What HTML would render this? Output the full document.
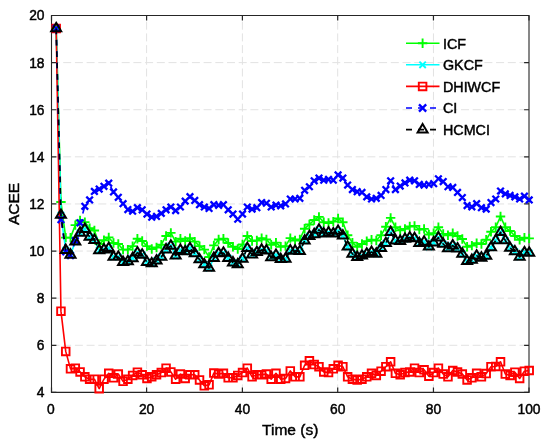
<!DOCTYPE html>
<html><head><meta charset="utf-8"><title>ACEE vs Time</title><style>
html,body{margin:0;padding:0;background:#fff;}body{width:550px;height:448px;overflow:hidden;}
svg{display:block;}text{font-family:"Liberation Sans", Arial, Helvetica, sans-serif;fill:#000;stroke:#000;stroke-width:0.45px;}
</style></head><body>
<svg width="550" height="448" viewBox="0 0 550 448">
<rect x="0" y="0" width="550" height="448" fill="#fff"/>
<path d="M146.60 392.4V15.5M242.40 392.4V15.5M337.70 392.4V15.5M433.45 392.4V15.5M51.5 345.29H529.0M51.5 298.17H529.0M51.5 251.06H529.0M51.5 203.95H529.0M51.5 156.84H529.0M51.5 109.73H529.0M51.5 62.61H529.0" stroke="#e2e2e2" stroke-width="1" stroke-dasharray="8 3.7" fill="none"/>
<path d="M51.5 15.5H529.0V392.4H51.5z" fill="none" stroke="#262626" stroke-width="1.1"/>
<path d="M51.50 392.4v-4.9M51.50 15.5v4.9M146.60 392.4v-4.9M146.60 15.5v4.9M242.40 392.4v-4.9M242.40 15.5v4.9M337.70 392.4v-4.9M337.70 15.5v4.9M433.45 392.4v-4.9M433.45 15.5v4.9M529.00 392.4v-4.9M529.00 15.5v4.9M51.5 392.40h4.9M529.0 392.40h-4.9M51.5 345.29h4.9M529.0 345.29h-4.9M51.5 298.17h4.9M529.0 298.17h-4.9M51.5 251.06h4.9M529.0 251.06h-4.9M51.5 203.95h4.9M529.0 203.95h-4.9M51.5 156.84h4.9M529.0 156.84h-4.9M51.5 109.73h4.9M529.0 109.73h-4.9M51.5 62.61h4.9M529.0 62.61h-4.9M51.5 15.50h4.9M529.0 15.50h-4.9" stroke="#262626" stroke-width="1.2" fill="none"/>
<g>
<polyline points="56.18,28.46 60.96,202.07 65.73,237.64 70.51,237.64 75.29,225.15 80.07,220.44 84.85,222.09 89.62,228.21 94.40,230.57 99.18,244.00 103.96,240.23 108.74,237.40 113.51,243.05 118.29,244.00 123.07,249.65 127.85,249.65 132.63,246.12 137.40,238.81 142.18,240.93 146.96,246.12 151.74,248.94 156.52,247.53 161.29,244.70 166.07,235.99 170.85,232.92 175.63,241.64 180.41,238.81 185.18,240.93 189.96,238.11 194.74,241.64 199.52,246.12 204.30,249.65 209.07,256.95 213.85,245.41 218.63,239.52 223.41,238.81 228.19,243.05 232.96,246.82 237.74,248.94 242.52,244.47 247.30,235.99 252.08,240.93 256.85,240.46 261.63,238.11 266.41,239.52 271.19,244.70 275.97,242.58 280.74,246.82 285.52,246.12 290.30,238.11 295.08,240.46 299.86,239.52 304.63,228.68 309.41,224.44 314.19,219.97 318.97,216.91 323.75,222.32 328.52,223.03 333.30,221.62 338.08,218.55 342.86,222.32 347.64,235.28 352.41,242.58 357.19,246.82 361.97,244.00 366.75,241.17 371.53,239.76 376.30,240.46 381.08,235.28 385.86,226.80 390.64,217.85 395.42,227.27 400.19,230.33 404.97,228.92 409.75,226.56 414.53,225.86 419.31,229.63 424.08,228.92 428.86,234.57 433.64,233.16 438.42,227.27 443.20,233.87 447.97,235.28 452.75,233.16 457.53,235.99 462.31,239.05 467.09,246.82 471.86,245.64 476.64,243.29 481.42,244.00 486.20,239.76 490.98,231.75 495.75,227.27 500.53,216.43 505.31,227.27 510.09,231.04 514.87,235.99 519.64,239.76 524.42,237.64 529.20,238.34" fill="none" stroke="#00ff00" stroke-width="1.6" stroke-linejoin="round"/>
<path d="M51.48 28.46h9.4M56.18 23.76v9.4M56.26 202.07h9.4M60.96 197.37v9.4M61.03 237.64h9.4M65.73 232.94v9.4M65.81 237.64h9.4M70.51 232.94v9.4M70.59 225.15h9.4M75.29 220.45v9.4M75.37 220.44h9.4M80.07 215.74v9.4M80.15 222.09h9.4M84.85 217.39v9.4M84.92 228.21h9.4M89.62 223.51v9.4M89.70 230.57h9.4M94.40 225.87v9.4M94.48 244.00h9.4M99.18 239.30v9.4M99.26 240.23h9.4M103.96 235.53v9.4M104.04 237.40h9.4M108.74 232.70v9.4M108.81 243.05h9.4M113.51 238.35v9.4M113.59 244.00h9.4M118.29 239.30v9.4M118.37 249.65h9.4M123.07 244.95v9.4M123.15 249.65h9.4M127.85 244.95v9.4M127.93 246.12h9.4M132.63 241.42v9.4M132.70 238.81h9.4M137.40 234.11v9.4M137.48 240.93h9.4M142.18 236.23v9.4M142.26 246.12h9.4M146.96 241.42v9.4M147.04 248.94h9.4M151.74 244.24v9.4M151.82 247.53h9.4M156.52 242.83v9.4M156.59 244.70h9.4M161.29 240.00v9.4M161.37 235.99h9.4M166.07 231.29v9.4M166.15 232.92h9.4M170.85 228.22v9.4M170.93 241.64h9.4M175.63 236.94v9.4M175.71 238.81h9.4M180.41 234.11v9.4M180.48 240.93h9.4M185.18 236.23v9.4M185.26 238.11h9.4M189.96 233.41v9.4M190.04 241.64h9.4M194.74 236.94v9.4M194.82 246.12h9.4M199.52 241.42v9.4M199.60 249.65h9.4M204.30 244.95v9.4M204.37 256.95h9.4M209.07 252.25v9.4M209.15 245.41h9.4M213.85 240.71v9.4M213.93 239.52h9.4M218.63 234.82v9.4M218.71 238.81h9.4M223.41 234.11v9.4M223.49 243.05h9.4M228.19 238.35v9.4M228.26 246.82h9.4M232.96 242.12v9.4M233.04 248.94h9.4M237.74 244.24v9.4M237.82 244.47h9.4M242.52 239.77v9.4M242.60 235.99h9.4M247.30 231.29v9.4M247.38 240.93h9.4M252.08 236.23v9.4M252.15 240.46h9.4M256.85 235.76v9.4M256.93 238.11h9.4M261.63 233.41v9.4M261.71 239.52h9.4M266.41 234.82v9.4M266.49 244.70h9.4M271.19 240.00v9.4M271.27 242.58h9.4M275.97 237.88v9.4M276.04 246.82h9.4M280.74 242.12v9.4M280.82 246.12h9.4M285.52 241.42v9.4M285.60 238.11h9.4M290.30 233.41v9.4M290.38 240.46h9.4M295.08 235.76v9.4M295.16 239.52h9.4M299.86 234.82v9.4M299.93 228.68h9.4M304.63 223.98v9.4M304.71 224.44h9.4M309.41 219.74v9.4M309.49 219.97h9.4M314.19 215.27v9.4M314.27 216.91h9.4M318.97 212.21v9.4M319.05 222.32h9.4M323.75 217.62v9.4M323.82 223.03h9.4M328.52 218.33v9.4M328.60 221.62h9.4M333.30 216.92v9.4M333.38 218.55h9.4M338.08 213.85v9.4M338.16 222.32h9.4M342.86 217.62v9.4M342.94 235.28h9.4M347.64 230.58v9.4M347.71 242.58h9.4M352.41 237.88v9.4M352.49 246.82h9.4M357.19 242.12v9.4M357.27 244.00h9.4M361.97 239.30v9.4M362.05 241.17h9.4M366.75 236.47v9.4M366.83 239.76h9.4M371.53 235.06v9.4M371.60 240.46h9.4M376.30 235.76v9.4M376.38 235.28h9.4M381.08 230.58v9.4M381.16 226.80h9.4M385.86 222.10v9.4M385.94 217.85h9.4M390.64 213.15v9.4M390.72 227.27h9.4M395.42 222.57v9.4M395.49 230.33h9.4M400.19 225.63v9.4M400.27 228.92h9.4M404.97 224.22v9.4M405.05 226.56h9.4M409.75 221.86v9.4M409.83 225.86h9.4M414.53 221.16v9.4M414.61 229.63h9.4M419.31 224.93v9.4M419.38 228.92h9.4M424.08 224.22v9.4M424.16 234.57h9.4M428.86 229.87v9.4M428.94 233.16h9.4M433.64 228.46v9.4M433.72 227.27h9.4M438.42 222.57v9.4M438.50 233.87h9.4M443.20 229.17v9.4M443.27 235.28h9.4M447.97 230.58v9.4M448.05 233.16h9.4M452.75 228.46v9.4M452.83 235.99h9.4M457.53 231.29v9.4M457.61 239.05h9.4M462.31 234.35v9.4M462.39 246.82h9.4M467.09 242.12v9.4M467.16 245.64h9.4M471.86 240.94v9.4M471.94 243.29h9.4M476.64 238.59v9.4M476.72 244.00h9.4M481.42 239.30v9.4M481.50 239.76h9.4M486.20 235.06v9.4M486.28 231.75h9.4M490.98 227.05v9.4M491.05 227.27h9.4M495.75 222.57v9.4M495.83 216.43h9.4M500.53 211.73v9.4M500.61 227.27h9.4M505.31 222.57v9.4M505.39 231.04h9.4M510.09 226.34v9.4M510.17 235.99h9.4M514.87 231.29v9.4M514.94 239.76h9.4M519.64 235.06v9.4M519.72 237.64h9.4M524.42 232.94v9.4M524.50 238.34h9.4M529.20 233.64v9.4" stroke="#00ff00" stroke-width="1.9" fill="none"/>
<polyline points="56.18,28.46 60.96,215.02 65.73,250.12 70.51,254.83 75.29,241.64 80.07,232.92 84.85,229.16 89.62,236.93 94.40,240.23 99.18,250.36 103.96,249.65 108.74,248.24 113.51,256.95 118.29,256.95 123.07,262.13 127.85,261.43 132.63,258.36 137.40,252.71 142.18,254.83 146.96,262.13 151.74,263.55 156.52,260.72 161.29,256.95 166.07,249.65 170.85,245.88 175.63,255.77 180.41,250.12 185.18,251.53 189.96,248.24 194.74,253.42 199.52,259.54 204.30,264.49 209.07,268.02 213.85,258.13 218.63,253.42 223.41,252.95 228.19,258.13 232.96,262.61 237.74,264.49 242.52,258.84 247.30,248.24 252.08,254.60 256.85,252.24 261.63,249.88 266.41,250.59 271.19,257.42 275.97,255.07 280.74,259.31 285.52,258.84 290.30,250.59 295.08,250.83 299.86,251.30 304.63,240.70 309.41,236.22 314.19,234.34 318.97,229.86 323.75,233.63 328.52,232.69 333.30,233.63 338.08,231.04 342.86,235.75 347.64,246.82 352.41,253.89 357.19,257.19 361.97,255.77 366.75,253.89 371.53,252.00 376.30,253.89 381.08,248.24 385.86,243.29 390.64,232.22 395.42,240.70 400.19,241.17 404.97,239.05 409.75,237.64 414.53,238.34 419.31,243.29 424.08,241.88 428.86,246.82 433.64,242.58 438.42,237.64 443.20,244.00 447.97,248.47 452.75,245.64 457.53,248.71 462.31,253.89 467.09,261.19 471.86,260.01 476.64,255.77 481.42,257.89 486.20,256.01 490.98,247.53 495.75,240.46 500.53,232.22 505.31,240.46 510.09,248.00 514.87,251.53 519.64,256.95 524.42,252.48 529.20,252.95" fill="none" stroke="#00ffff" stroke-width="1.6" stroke-linejoin="round"/>
<path d="M52.98 25.26l6.4 6.4M52.98 31.66l6.4 -6.4M57.76 211.82l6.4 6.4M57.76 218.22l6.4 -6.4M62.53 246.92l6.4 6.4M62.53 253.32l6.4 -6.4M67.31 251.63l6.4 6.4M67.31 258.03l6.4 -6.4M72.09 238.44l6.4 6.4M72.09 244.84l6.4 -6.4M76.87 229.72l6.4 6.4M76.87 236.12l6.4 -6.4M81.65 225.96l6.4 6.4M81.65 232.36l6.4 -6.4M86.42 233.73l6.4 6.4M86.42 240.13l6.4 -6.4M91.20 237.03l6.4 6.4M91.20 243.43l6.4 -6.4M95.98 247.16l6.4 6.4M95.98 253.56l6.4 -6.4M100.76 246.45l6.4 6.4M100.76 252.85l6.4 -6.4M105.54 245.04l6.4 6.4M105.54 251.44l6.4 -6.4M110.31 253.75l6.4 6.4M110.31 260.15l6.4 -6.4M115.09 253.75l6.4 6.4M115.09 260.15l6.4 -6.4M119.87 258.93l6.4 6.4M119.87 265.33l6.4 -6.4M124.65 258.23l6.4 6.4M124.65 264.63l6.4 -6.4M129.43 255.16l6.4 6.4M129.43 261.56l6.4 -6.4M134.20 249.51l6.4 6.4M134.20 255.91l6.4 -6.4M138.98 251.63l6.4 6.4M138.98 258.03l6.4 -6.4M143.76 258.93l6.4 6.4M143.76 265.33l6.4 -6.4M148.54 260.35l6.4 6.4M148.54 266.75l6.4 -6.4M153.32 257.52l6.4 6.4M153.32 263.92l6.4 -6.4M158.09 253.75l6.4 6.4M158.09 260.15l6.4 -6.4M162.87 246.45l6.4 6.4M162.87 252.85l6.4 -6.4M167.65 242.68l6.4 6.4M167.65 249.08l6.4 -6.4M172.43 252.57l6.4 6.4M172.43 258.97l6.4 -6.4M177.21 246.92l6.4 6.4M177.21 253.32l6.4 -6.4M181.98 248.33l6.4 6.4M181.98 254.73l6.4 -6.4M186.76 245.04l6.4 6.4M186.76 251.44l6.4 -6.4M191.54 250.22l6.4 6.4M191.54 256.62l6.4 -6.4M196.32 256.34l6.4 6.4M196.32 262.74l6.4 -6.4M201.10 261.29l6.4 6.4M201.10 267.69l6.4 -6.4M205.87 264.82l6.4 6.4M205.87 271.22l6.4 -6.4M210.65 254.93l6.4 6.4M210.65 261.33l6.4 -6.4M215.43 250.22l6.4 6.4M215.43 256.62l6.4 -6.4M220.21 249.75l6.4 6.4M220.21 256.15l6.4 -6.4M224.99 254.93l6.4 6.4M224.99 261.33l6.4 -6.4M229.76 259.41l6.4 6.4M229.76 265.81l6.4 -6.4M234.54 261.29l6.4 6.4M234.54 267.69l6.4 -6.4M239.32 255.64l6.4 6.4M239.32 262.04l6.4 -6.4M244.10 245.04l6.4 6.4M244.10 251.44l6.4 -6.4M248.88 251.40l6.4 6.4M248.88 257.80l6.4 -6.4M253.65 249.04l6.4 6.4M253.65 255.44l6.4 -6.4M258.43 246.68l6.4 6.4M258.43 253.08l6.4 -6.4M263.21 247.39l6.4 6.4M263.21 253.79l6.4 -6.4M267.99 254.22l6.4 6.4M267.99 260.62l6.4 -6.4M272.77 251.87l6.4 6.4M272.77 258.27l6.4 -6.4M277.54 256.11l6.4 6.4M277.54 262.51l6.4 -6.4M282.32 255.64l6.4 6.4M282.32 262.04l6.4 -6.4M287.10 247.39l6.4 6.4M287.10 253.79l6.4 -6.4M291.88 247.63l6.4 6.4M291.88 254.03l6.4 -6.4M296.66 248.10l6.4 6.4M296.66 254.50l6.4 -6.4M301.43 237.50l6.4 6.4M301.43 243.90l6.4 -6.4M306.21 233.02l6.4 6.4M306.21 239.42l6.4 -6.4M310.99 231.14l6.4 6.4M310.99 237.54l6.4 -6.4M315.77 226.66l6.4 6.4M315.77 233.06l6.4 -6.4M320.55 230.43l6.4 6.4M320.55 236.83l6.4 -6.4M325.32 229.49l6.4 6.4M325.32 235.89l6.4 -6.4M330.10 230.43l6.4 6.4M330.10 236.83l6.4 -6.4M334.88 227.84l6.4 6.4M334.88 234.24l6.4 -6.4M339.66 232.55l6.4 6.4M339.66 238.95l6.4 -6.4M344.44 243.62l6.4 6.4M344.44 250.02l6.4 -6.4M349.21 250.69l6.4 6.4M349.21 257.09l6.4 -6.4M353.99 253.99l6.4 6.4M353.99 260.39l6.4 -6.4M358.77 252.57l6.4 6.4M358.77 258.97l6.4 -6.4M363.55 250.69l6.4 6.4M363.55 257.09l6.4 -6.4M368.33 248.80l6.4 6.4M368.33 255.20l6.4 -6.4M373.10 250.69l6.4 6.4M373.10 257.09l6.4 -6.4M377.88 245.04l6.4 6.4M377.88 251.44l6.4 -6.4M382.66 240.09l6.4 6.4M382.66 246.49l6.4 -6.4M387.44 229.02l6.4 6.4M387.44 235.42l6.4 -6.4M392.22 237.50l6.4 6.4M392.22 243.90l6.4 -6.4M396.99 237.97l6.4 6.4M396.99 244.37l6.4 -6.4M401.77 235.85l6.4 6.4M401.77 242.25l6.4 -6.4M406.55 234.44l6.4 6.4M406.55 240.84l6.4 -6.4M411.33 235.14l6.4 6.4M411.33 241.54l6.4 -6.4M416.11 240.09l6.4 6.4M416.11 246.49l6.4 -6.4M420.88 238.68l6.4 6.4M420.88 245.08l6.4 -6.4M425.66 243.62l6.4 6.4M425.66 250.02l6.4 -6.4M430.44 239.38l6.4 6.4M430.44 245.78l6.4 -6.4M435.22 234.44l6.4 6.4M435.22 240.84l6.4 -6.4M440.00 240.80l6.4 6.4M440.00 247.20l6.4 -6.4M444.77 245.27l6.4 6.4M444.77 251.67l6.4 -6.4M449.55 242.44l6.4 6.4M449.55 248.84l6.4 -6.4M454.33 245.51l6.4 6.4M454.33 251.91l6.4 -6.4M459.11 250.69l6.4 6.4M459.11 257.09l6.4 -6.4M463.89 257.99l6.4 6.4M463.89 264.39l6.4 -6.4M468.66 256.81l6.4 6.4M468.66 263.21l6.4 -6.4M473.44 252.57l6.4 6.4M473.44 258.97l6.4 -6.4M478.22 254.69l6.4 6.4M478.22 261.09l6.4 -6.4M483.00 252.81l6.4 6.4M483.00 259.21l6.4 -6.4M487.78 244.33l6.4 6.4M487.78 250.73l6.4 -6.4M492.55 237.26l6.4 6.4M492.55 243.66l6.4 -6.4M497.33 229.02l6.4 6.4M497.33 235.42l6.4 -6.4M502.11 237.26l6.4 6.4M502.11 243.66l6.4 -6.4M506.89 244.80l6.4 6.4M506.89 251.20l6.4 -6.4M511.67 248.33l6.4 6.4M511.67 254.73l6.4 -6.4M516.44 253.75l6.4 6.4M516.44 260.15l6.4 -6.4M521.22 249.28l6.4 6.4M521.22 255.68l6.4 -6.4M526.00 249.75l6.4 6.4M526.00 256.15l6.4 -6.4" stroke="#00ffff" stroke-width="1.9" fill="none"/>
<polyline points="56.18,28.46 60.96,311.13 65.73,351.41 70.51,368.84 75.29,368.14 80.07,371.91 84.85,376.85 89.62,379.21 94.40,379.21 99.18,388.63 103.96,379.21 108.74,373.32 113.51,377.80 118.29,374.03 123.07,381.33 127.85,379.21 132.63,375.44 137.40,372.14 142.18,374.73 146.96,378.50 151.74,376.85 156.52,374.73 161.29,372.61 166.07,368.14 170.85,371.91 175.63,379.21 180.41,374.03 185.18,378.50 189.96,374.73 194.74,374.73 199.52,379.92 204.30,385.80 209.07,384.86 213.85,373.08 218.63,374.03 223.41,373.32 228.19,377.80 232.96,377.80 237.74,375.44 242.52,372.61 247.30,368.14 252.08,376.85 256.85,374.73 261.63,374.73 266.41,374.03 271.19,379.21 275.97,373.32 280.74,379.21 285.52,378.50 290.30,370.96 295.08,376.85 299.86,376.85 304.63,365.31 309.41,360.83 314.19,364.60 318.97,366.72 323.75,371.91 328.52,372.61 333.30,368.84 338.08,365.31 342.86,366.72 347.64,376.85 352.41,379.21 357.19,379.92 361.97,379.21 366.75,376.85 371.53,373.32 376.30,375.44 381.08,371.20 385.86,366.72 390.64,361.78 395.42,373.32 400.19,374.73 404.97,372.61 409.75,371.91 414.53,368.14 419.31,372.61 424.08,369.79 428.86,376.15 433.64,372.61 438.42,368.14 443.20,374.03 447.97,376.85 452.75,370.49 457.53,371.91 462.31,374.03 467.09,379.92 471.86,377.80 476.64,373.32 481.42,376.85 486.20,373.56 490.98,366.72 495.75,366.49 500.53,361.78 505.31,374.03 510.09,375.44 514.87,372.14 519.64,378.50 524.42,371.20 529.20,370.49" fill="none" stroke="#ff0000" stroke-width="1.6" stroke-linejoin="round"/>
<path d="M52.38 24.66h7.6v7.6h-7.6zM57.16 307.33h7.6v7.6h-7.6zM61.93 347.61h7.6v7.6h-7.6zM66.71 365.04h7.6v7.6h-7.6zM71.49 364.34h7.6v7.6h-7.6zM76.27 368.11h7.6v7.6h-7.6zM81.05 373.05h7.6v7.6h-7.6zM85.82 375.41h7.6v7.6h-7.6zM90.60 375.41h7.6v7.6h-7.6zM95.38 384.83h7.6v7.6h-7.6zM100.16 375.41h7.6v7.6h-7.6zM104.94 369.52h7.6v7.6h-7.6zM109.71 374.00h7.6v7.6h-7.6zM114.49 370.23h7.6v7.6h-7.6zM119.27 377.53h7.6v7.6h-7.6zM124.05 375.41h7.6v7.6h-7.6zM128.83 371.64h7.6v7.6h-7.6zM133.60 368.34h7.6v7.6h-7.6zM138.38 370.93h7.6v7.6h-7.6zM143.16 374.70h7.6v7.6h-7.6zM147.94 373.05h7.6v7.6h-7.6zM152.72 370.93h7.6v7.6h-7.6zM157.49 368.81h7.6v7.6h-7.6zM162.27 364.34h7.6v7.6h-7.6zM167.05 368.11h7.6v7.6h-7.6zM171.83 375.41h7.6v7.6h-7.6zM176.61 370.23h7.6v7.6h-7.6zM181.38 374.70h7.6v7.6h-7.6zM186.16 370.93h7.6v7.6h-7.6zM190.94 370.93h7.6v7.6h-7.6zM195.72 376.12h7.6v7.6h-7.6zM200.50 382.00h7.6v7.6h-7.6zM205.27 381.06h7.6v7.6h-7.6zM210.05 369.28h7.6v7.6h-7.6zM214.83 370.23h7.6v7.6h-7.6zM219.61 369.52h7.6v7.6h-7.6zM224.39 374.00h7.6v7.6h-7.6zM229.16 374.00h7.6v7.6h-7.6zM233.94 371.64h7.6v7.6h-7.6zM238.72 368.81h7.6v7.6h-7.6zM243.50 364.34h7.6v7.6h-7.6zM248.28 373.05h7.6v7.6h-7.6zM253.05 370.93h7.6v7.6h-7.6zM257.83 370.93h7.6v7.6h-7.6zM262.61 370.23h7.6v7.6h-7.6zM267.39 375.41h7.6v7.6h-7.6zM272.17 369.52h7.6v7.6h-7.6zM276.94 375.41h7.6v7.6h-7.6zM281.72 374.70h7.6v7.6h-7.6zM286.50 367.16h7.6v7.6h-7.6zM291.28 373.05h7.6v7.6h-7.6zM296.06 373.05h7.6v7.6h-7.6zM300.83 361.51h7.6v7.6h-7.6zM305.61 357.03h7.6v7.6h-7.6zM310.39 360.80h7.6v7.6h-7.6zM315.17 362.92h7.6v7.6h-7.6zM319.95 368.11h7.6v7.6h-7.6zM324.72 368.81h7.6v7.6h-7.6zM329.50 365.04h7.6v7.6h-7.6zM334.28 361.51h7.6v7.6h-7.6zM339.06 362.92h7.6v7.6h-7.6zM343.84 373.05h7.6v7.6h-7.6zM348.61 375.41h7.6v7.6h-7.6zM353.39 376.12h7.6v7.6h-7.6zM358.17 375.41h7.6v7.6h-7.6zM362.95 373.05h7.6v7.6h-7.6zM367.73 369.52h7.6v7.6h-7.6zM372.50 371.64h7.6v7.6h-7.6zM377.28 367.40h7.6v7.6h-7.6zM382.06 362.92h7.6v7.6h-7.6zM386.84 357.98h7.6v7.6h-7.6zM391.62 369.52h7.6v7.6h-7.6zM396.39 370.93h7.6v7.6h-7.6zM401.17 368.81h7.6v7.6h-7.6zM405.95 368.11h7.6v7.6h-7.6zM410.73 364.34h7.6v7.6h-7.6zM415.51 368.81h7.6v7.6h-7.6zM420.28 365.99h7.6v7.6h-7.6zM425.06 372.35h7.6v7.6h-7.6zM429.84 368.81h7.6v7.6h-7.6zM434.62 364.34h7.6v7.6h-7.6zM439.40 370.23h7.6v7.6h-7.6zM444.17 373.05h7.6v7.6h-7.6zM448.95 366.69h7.6v7.6h-7.6zM453.73 368.11h7.6v7.6h-7.6zM458.51 370.23h7.6v7.6h-7.6zM463.29 376.12h7.6v7.6h-7.6zM468.06 374.00h7.6v7.6h-7.6zM472.84 369.52h7.6v7.6h-7.6zM477.62 373.05h7.6v7.6h-7.6zM482.40 369.75h7.6v7.6h-7.6zM487.18 362.92h7.6v7.6h-7.6zM491.95 362.69h7.6v7.6h-7.6zM496.73 357.98h7.6v7.6h-7.6zM501.51 370.23h7.6v7.6h-7.6zM506.29 371.64h7.6v7.6h-7.6zM511.07 368.34h7.6v7.6h-7.6zM515.84 374.70h7.6v7.6h-7.6zM520.62 367.40h7.6v7.6h-7.6zM525.40 366.69h7.6v7.6h-7.6z" stroke="#ff0000" stroke-width="1.9" fill="none"/>
<polyline points="56.18,28.46 60.96,219.73 65.73,251.77 70.51,255.54 75.29,240.70 80.07,222.80 84.85,206.31 89.62,199.95 94.40,191.47 99.18,189.11 103.96,186.28 108.74,183.22 113.51,191.94 118.29,197.35 123.07,203.71 127.85,209.60 132.63,211.25 137.40,207.72 142.18,209.84 146.96,214.08 151.74,217.14 156.52,216.43 161.29,213.37 166.07,209.84 170.85,207.01 175.63,210.55 180.41,207.01 185.18,201.12 189.96,196.65 194.74,200.42 199.52,204.66 204.30,207.01 209.07,208.43 213.85,204.66 218.63,205.36 223.41,204.66 228.19,209.84 232.96,214.08 237.74,219.26 242.52,214.08 247.30,207.01 252.08,209.13 256.85,207.72 261.63,202.54 266.41,203.24 271.19,207.01 275.97,205.13 280.74,205.83 285.52,203.95 290.30,199.00 295.08,199.00 299.86,198.30 304.63,190.29 309.41,186.75 314.19,180.86 318.97,178.04 323.75,180.16 328.52,179.45 333.30,180.16 338.08,174.98 342.86,178.04 347.64,185.10 352.41,189.58 357.19,191.70 361.97,192.41 366.75,196.88 371.53,199.00 376.30,198.30 381.08,195.47 385.86,189.58 390.64,180.86 395.42,189.58 400.19,186.05 404.97,182.98 409.75,180.16 414.53,180.86 419.31,184.40 424.08,185.10 428.86,184.40 433.64,183.69 438.42,178.74 443.20,181.57 447.97,186.75 452.75,187.46 457.53,192.41 462.31,197.59 467.09,205.60 471.86,206.78 476.64,203.71 481.42,207.72 486.20,209.13 490.98,202.54 495.75,199.00 500.53,190.99 505.31,193.82 510.09,195.47 514.87,196.88 519.64,199.00 524.42,196.18 529.20,199.95" fill="none" stroke="#0000ff" stroke-width="1.6" stroke-linejoin="round" stroke-dasharray="5.7 5.7"/>
<path d="M52.88 25.16l6.6 6.6M52.88 31.76l6.6 -6.6M57.66 216.43l6.6 6.6M57.66 223.03l6.6 -6.6M62.43 248.47l6.6 6.6M62.43 255.07l6.6 -6.6M67.21 252.24l6.6 6.6M67.21 258.84l6.6 -6.6M71.99 237.40l6.6 6.6M71.99 244.00l6.6 -6.6M76.77 219.50l6.6 6.6M76.77 226.10l6.6 -6.6M81.55 203.01l6.6 6.6M81.55 209.61l6.6 -6.6M86.32 196.65l6.6 6.6M86.32 203.25l6.6 -6.6M91.10 188.17l6.6 6.6M91.10 194.77l6.6 -6.6M95.88 185.81l6.6 6.6M95.88 192.41l6.6 -6.6M100.66 182.98l6.6 6.6M100.66 189.58l6.6 -6.6M105.44 179.92l6.6 6.6M105.44 186.52l6.6 -6.6M110.21 188.64l6.6 6.6M110.21 195.24l6.6 -6.6M114.99 194.05l6.6 6.6M114.99 200.65l6.6 -6.6M119.77 200.41l6.6 6.6M119.77 207.01l6.6 -6.6M124.55 206.30l6.6 6.6M124.55 212.90l6.6 -6.6M129.33 207.95l6.6 6.6M129.33 214.55l6.6 -6.6M134.10 204.42l6.6 6.6M134.10 211.02l6.6 -6.6M138.88 206.54l6.6 6.6M138.88 213.14l6.6 -6.6M143.66 210.78l6.6 6.6M143.66 217.38l6.6 -6.6M148.44 213.84l6.6 6.6M148.44 220.44l6.6 -6.6M153.22 213.13l6.6 6.6M153.22 219.73l6.6 -6.6M157.99 210.07l6.6 6.6M157.99 216.67l6.6 -6.6M162.77 206.54l6.6 6.6M162.77 213.14l6.6 -6.6M167.55 203.71l6.6 6.6M167.55 210.31l6.6 -6.6M172.33 207.25l6.6 6.6M172.33 213.85l6.6 -6.6M177.11 203.71l6.6 6.6M177.11 210.31l6.6 -6.6M181.88 197.82l6.6 6.6M181.88 204.42l6.6 -6.6M186.66 193.35l6.6 6.6M186.66 199.95l6.6 -6.6M191.44 197.12l6.6 6.6M191.44 203.72l6.6 -6.6M196.22 201.36l6.6 6.6M196.22 207.96l6.6 -6.6M201.00 203.71l6.6 6.6M201.00 210.31l6.6 -6.6M205.77 205.13l6.6 6.6M205.77 211.73l6.6 -6.6M210.55 201.36l6.6 6.6M210.55 207.96l6.6 -6.6M215.33 202.06l6.6 6.6M215.33 208.66l6.6 -6.6M220.11 201.36l6.6 6.6M220.11 207.96l6.6 -6.6M224.89 206.54l6.6 6.6M224.89 213.14l6.6 -6.6M229.66 210.78l6.6 6.6M229.66 217.38l6.6 -6.6M234.44 215.96l6.6 6.6M234.44 222.56l6.6 -6.6M239.22 210.78l6.6 6.6M239.22 217.38l6.6 -6.6M244.00 203.71l6.6 6.6M244.00 210.31l6.6 -6.6M248.78 205.83l6.6 6.6M248.78 212.43l6.6 -6.6M253.55 204.42l6.6 6.6M253.55 211.02l6.6 -6.6M258.33 199.24l6.6 6.6M258.33 205.84l6.6 -6.6M263.11 199.94l6.6 6.6M263.11 206.54l6.6 -6.6M267.89 203.71l6.6 6.6M267.89 210.31l6.6 -6.6M272.67 201.83l6.6 6.6M272.67 208.43l6.6 -6.6M277.44 202.53l6.6 6.6M277.44 209.13l6.6 -6.6M282.22 200.65l6.6 6.6M282.22 207.25l6.6 -6.6M287.00 195.70l6.6 6.6M287.00 202.30l6.6 -6.6M291.78 195.70l6.6 6.6M291.78 202.30l6.6 -6.6M296.56 195.00l6.6 6.6M296.56 201.60l6.6 -6.6M301.33 186.99l6.6 6.6M301.33 193.59l6.6 -6.6M306.11 183.45l6.6 6.6M306.11 190.05l6.6 -6.6M310.89 177.56l6.6 6.6M310.89 184.16l6.6 -6.6M315.67 174.74l6.6 6.6M315.67 181.34l6.6 -6.6M320.45 176.86l6.6 6.6M320.45 183.46l6.6 -6.6M325.22 176.15l6.6 6.6M325.22 182.75l6.6 -6.6M330.00 176.86l6.6 6.6M330.00 183.46l6.6 -6.6M334.78 171.68l6.6 6.6M334.78 178.28l6.6 -6.6M339.56 174.74l6.6 6.6M339.56 181.34l6.6 -6.6M344.34 181.80l6.6 6.6M344.34 188.40l6.6 -6.6M349.11 186.28l6.6 6.6M349.11 192.88l6.6 -6.6M353.89 188.40l6.6 6.6M353.89 195.00l6.6 -6.6M358.67 189.11l6.6 6.6M358.67 195.71l6.6 -6.6M363.45 193.58l6.6 6.6M363.45 200.18l6.6 -6.6M368.23 195.70l6.6 6.6M368.23 202.30l6.6 -6.6M373.00 195.00l6.6 6.6M373.00 201.60l6.6 -6.6M377.78 192.17l6.6 6.6M377.78 198.77l6.6 -6.6M382.56 186.28l6.6 6.6M382.56 192.88l6.6 -6.6M387.34 177.56l6.6 6.6M387.34 184.16l6.6 -6.6M392.12 186.28l6.6 6.6M392.12 192.88l6.6 -6.6M396.89 182.75l6.6 6.6M396.89 189.35l6.6 -6.6M401.67 179.68l6.6 6.6M401.67 186.28l6.6 -6.6M406.45 176.86l6.6 6.6M406.45 183.46l6.6 -6.6M411.23 177.56l6.6 6.6M411.23 184.16l6.6 -6.6M416.01 181.10l6.6 6.6M416.01 187.70l6.6 -6.6M420.78 181.80l6.6 6.6M420.78 188.40l6.6 -6.6M425.56 181.10l6.6 6.6M425.56 187.70l6.6 -6.6M430.34 180.39l6.6 6.6M430.34 186.99l6.6 -6.6M435.12 175.44l6.6 6.6M435.12 182.04l6.6 -6.6M439.90 178.27l6.6 6.6M439.90 184.87l6.6 -6.6M444.67 183.45l6.6 6.6M444.67 190.05l6.6 -6.6M449.45 184.16l6.6 6.6M449.45 190.76l6.6 -6.6M454.23 189.11l6.6 6.6M454.23 195.71l6.6 -6.6M459.01 194.29l6.6 6.6M459.01 200.89l6.6 -6.6M463.79 202.30l6.6 6.6M463.79 208.90l6.6 -6.6M468.56 203.48l6.6 6.6M468.56 210.08l6.6 -6.6M473.34 200.41l6.6 6.6M473.34 207.01l6.6 -6.6M478.12 204.42l6.6 6.6M478.12 211.02l6.6 -6.6M482.90 205.83l6.6 6.6M482.90 212.43l6.6 -6.6M487.68 199.24l6.6 6.6M487.68 205.84l6.6 -6.6M492.45 195.70l6.6 6.6M492.45 202.30l6.6 -6.6M497.23 187.69l6.6 6.6M497.23 194.29l6.6 -6.6M502.01 190.52l6.6 6.6M502.01 197.12l6.6 -6.6M506.79 192.17l6.6 6.6M506.79 198.77l6.6 -6.6M511.57 193.58l6.6 6.6M511.57 200.18l6.6 -6.6M516.34 195.70l6.6 6.6M516.34 202.30l6.6 -6.6M521.12 192.88l6.6 6.6M521.12 199.48l6.6 -6.6M525.90 196.65l6.6 6.6M525.90 203.25l6.6 -6.6" stroke="#0000ff" stroke-width="2.3" fill="none"/>
<polyline points="56.18,28.46 60.96,215.02 65.73,250.12 70.51,254.83 75.29,241.64 80.07,232.92 84.85,229.16 89.62,236.93 94.40,240.23 99.18,250.36 103.96,249.65 108.74,248.24 113.51,256.95 118.29,256.95 123.07,262.13 127.85,261.43 132.63,258.36 137.40,252.71 142.18,254.83 146.96,262.13 151.74,263.55 156.52,260.72 161.29,256.95 166.07,249.65 170.85,245.88 175.63,255.77 180.41,250.12 185.18,251.53 189.96,248.24 194.74,253.42 199.52,259.54 204.30,264.49 209.07,268.02 213.85,258.13 218.63,253.42 223.41,252.95 228.19,258.13 232.96,262.61 237.74,264.49 242.52,258.84 247.30,248.24 252.08,254.60 256.85,252.24 261.63,249.88 266.41,250.59 271.19,257.42 275.97,255.07 280.74,259.31 285.52,258.84 290.30,250.59 295.08,250.83 299.86,251.30 304.63,240.70 309.41,236.22 314.19,234.34 318.97,229.86 323.75,233.63 328.52,232.69 333.30,233.63 338.08,231.04 342.86,235.75 347.64,246.82 352.41,253.89 357.19,257.19 361.97,255.77 366.75,253.89 371.53,252.00 376.30,253.89 381.08,248.24 385.86,243.29 390.64,232.22 395.42,240.70 400.19,241.17 404.97,239.05 409.75,237.64 414.53,238.34 419.31,243.29 424.08,241.88 428.86,246.82 433.64,242.58 438.42,237.64 443.20,244.00 447.97,248.47 452.75,245.64 457.53,248.71 462.31,253.89 467.09,261.19 471.86,260.01 476.64,255.77 481.42,257.89 486.20,256.01 490.98,247.53 495.75,240.46 500.53,232.22 505.31,240.46 510.09,248.00 514.87,251.53 519.64,256.95 524.42,252.48 529.20,252.95" fill="none" stroke="#000000" stroke-width="1.6" stroke-linejoin="round" stroke-dasharray="5.7 5.7"/>
<path d="M56.18 22.86L61.18 31.26L51.18 31.26zM60.96 209.42L65.96 217.82L55.96 217.82zM65.73 244.52L70.73 252.92L60.73 252.92zM70.51 249.23L75.51 257.63L65.51 257.63zM75.29 236.04L80.29 244.44L70.29 244.44zM80.07 227.32L85.07 235.72L75.07 235.72zM84.85 223.56L89.85 231.96L79.85 231.96zM89.62 231.33L94.62 239.73L84.62 239.73zM94.40 234.63L99.40 243.03L89.40 243.03zM99.18 244.76L104.18 253.16L94.18 253.16zM103.96 244.05L108.96 252.45L98.96 252.45zM108.74 242.64L113.74 251.04L103.74 251.04zM113.51 251.35L118.51 259.75L108.51 259.75zM118.29 251.35L123.29 259.75L113.29 259.75zM123.07 256.53L128.07 264.93L118.07 264.93zM127.85 255.83L132.85 264.23L122.85 264.23zM132.63 252.76L137.63 261.16L127.63 261.16zM137.40 247.11L142.40 255.51L132.40 255.51zM142.18 249.23L147.18 257.63L137.18 257.63zM146.96 256.53L151.96 264.93L141.96 264.93zM151.74 257.95L156.74 266.35L146.74 266.35zM156.52 255.12L161.52 263.52L151.52 263.52zM161.29 251.35L166.29 259.75L156.29 259.75zM166.07 244.05L171.07 252.45L161.07 252.45zM170.85 240.28L175.85 248.68L165.85 248.68zM175.63 250.17L180.63 258.57L170.63 258.57zM180.41 244.52L185.41 252.92L175.41 252.92zM185.18 245.93L190.18 254.33L180.18 254.33zM189.96 242.64L194.96 251.04L184.96 251.04zM194.74 247.82L199.74 256.22L189.74 256.22zM199.52 253.94L204.52 262.34L194.52 262.34zM204.30 258.89L209.30 267.29L199.30 267.29zM209.07 262.42L214.07 270.82L204.07 270.82zM213.85 252.53L218.85 260.93L208.85 260.93zM218.63 247.82L223.63 256.22L213.63 256.22zM223.41 247.35L228.41 255.75L218.41 255.75zM228.19 252.53L233.19 260.93L223.19 260.93zM232.96 257.01L237.96 265.41L227.96 265.41zM237.74 258.89L242.74 267.29L232.74 267.29zM242.52 253.24L247.52 261.64L237.52 261.64zM247.30 242.64L252.30 251.04L242.30 251.04zM252.08 249.00L257.08 257.40L247.08 257.40zM256.85 246.64L261.85 255.04L251.85 255.04zM261.63 244.28L266.63 252.68L256.63 252.68zM266.41 244.99L271.41 253.39L261.41 253.39zM271.19 251.82L276.19 260.22L266.19 260.22zM275.97 249.47L280.97 257.87L270.97 257.87zM280.74 253.71L285.74 262.11L275.74 262.11zM285.52 253.24L290.52 261.64L280.52 261.64zM290.30 244.99L295.30 253.39L285.30 253.39zM295.08 245.23L300.08 253.63L290.08 253.63zM299.86 245.70L304.86 254.10L294.86 254.10zM304.63 235.10L309.63 243.50L299.63 243.50zM309.41 230.62L314.41 239.02L304.41 239.02zM314.19 228.74L319.19 237.14L309.19 237.14zM318.97 224.26L323.97 232.66L313.97 232.66zM323.75 228.03L328.75 236.43L318.75 236.43zM328.52 227.09L333.52 235.49L323.52 235.49zM333.30 228.03L338.30 236.43L328.30 236.43zM338.08 225.44L343.08 233.84L333.08 233.84zM342.86 230.15L347.86 238.55L337.86 238.55zM347.64 241.22L352.64 249.62L342.64 249.62zM352.41 248.29L357.41 256.69L347.41 256.69zM357.19 251.59L362.19 259.99L352.19 259.99zM361.97 250.17L366.97 258.57L356.97 258.57zM366.75 248.29L371.75 256.69L361.75 256.69zM371.53 246.40L376.53 254.80L366.53 254.80zM376.30 248.29L381.30 256.69L371.30 256.69zM381.08 242.64L386.08 251.04L376.08 251.04zM385.86 237.69L390.86 246.09L380.86 246.09zM390.64 226.62L395.64 235.02L385.64 235.02zM395.42 235.10L400.42 243.50L390.42 243.50zM400.19 235.57L405.19 243.97L395.19 243.97zM404.97 233.45L409.97 241.85L399.97 241.85zM409.75 232.04L414.75 240.44L404.75 240.44zM414.53 232.74L419.53 241.14L409.53 241.14zM419.31 237.69L424.31 246.09L414.31 246.09zM424.08 236.28L429.08 244.68L419.08 244.68zM428.86 241.22L433.86 249.62L423.86 249.62zM433.64 236.98L438.64 245.38L428.64 245.38zM438.42 232.04L443.42 240.44L433.42 240.44zM443.20 238.40L448.20 246.80L438.20 246.80zM447.97 242.87L452.97 251.27L442.97 251.27zM452.75 240.04L457.75 248.44L447.75 248.44zM457.53 243.11L462.53 251.51L452.53 251.51zM462.31 248.29L467.31 256.69L457.31 256.69zM467.09 255.59L472.09 263.99L462.09 263.99zM471.86 254.41L476.86 262.81L466.86 262.81zM476.64 250.17L481.64 258.57L471.64 258.57zM481.42 252.29L486.42 260.69L476.42 260.69zM486.20 250.41L491.20 258.81L481.20 258.81zM490.98 241.93L495.98 250.33L485.98 250.33zM495.75 234.86L500.75 243.26L490.75 243.26zM500.53 226.62L505.53 235.02L495.53 235.02zM505.31 234.86L510.31 243.26L500.31 243.26zM510.09 242.40L515.09 250.80L505.09 250.80zM514.87 245.93L519.87 254.33L509.87 254.33zM519.64 251.35L524.64 259.75L514.64 259.75zM524.42 246.88L529.42 255.28L519.42 255.28zM529.20 247.35L534.20 255.75L524.20 255.75z" stroke="#000000" stroke-width="2.0" fill="none" stroke-linejoin="miter"/>
</g>
<text x="50.8" y="413.5" font-size="13.8" text-anchor="middle">0</text>
<text x="146.6" y="413.5" font-size="13.8" text-anchor="middle">20</text>
<text x="242.4" y="413.5" font-size="13.8" text-anchor="middle">40</text>
<text x="337.7" y="413.5" font-size="13.8" text-anchor="middle">60</text>
<text x="433.4" y="413.5" font-size="13.8" text-anchor="middle">80</text>
<text x="529.0" y="413.5" font-size="13.8" text-anchor="middle">100</text>
<text x="44.5" y="397.3" font-size="13.8" text-anchor="end">4</text>
<text x="44.5" y="350.2" font-size="13.8" text-anchor="end">6</text>
<text x="44.5" y="303.1" font-size="13.8" text-anchor="end">8</text>
<text x="44.5" y="256.0" font-size="13.8" text-anchor="end">10</text>
<text x="44.5" y="208.8" font-size="13.8" text-anchor="end">12</text>
<text x="44.5" y="161.7" font-size="13.8" text-anchor="end">14</text>
<text x="44.5" y="114.6" font-size="13.8" text-anchor="end">16</text>
<text x="44.5" y="67.5" font-size="13.8" text-anchor="end">18</text>
<text x="44.5" y="20.4" font-size="13.8" text-anchor="end">20</text>
<text x="290.2" y="435" font-size="15.5" text-anchor="middle">Time (s)</text>
<text transform="translate(18.8 204) rotate(-90)" font-size="15.5" text-anchor="middle">ACEE</text>
<path d="M406.0 43.2H439.5" stroke="#00ff00" stroke-width="1.6"/>
<path d="M417.90 43.20h9.4M422.60 38.50v9.4" stroke="#00ff00" stroke-width="1.9" fill="none"/>
<text x="443" y="48.6" font-size="14.3">ICF</text>
<path d="M406.0 64.8H439.5" stroke="#00ffff" stroke-width="1.6"/>
<path d="M419.40 61.60l6.4 6.4M419.40 68.00l6.4 -6.4" stroke="#00ffff" stroke-width="1.9" fill="none"/>
<text x="443" y="70.2" font-size="14.3">GKCF</text>
<path d="M406.0 86.4H439.5" stroke="#ff0000" stroke-width="1.6"/>
<path d="M418.80 82.60h7.6v7.6h-7.6z" stroke="#ff0000" stroke-width="1.9" fill="none"/>
<text x="443" y="91.8" font-size="14.3">DHIWCF</text>
<path d="M406.0 108.0H439.5" stroke="#0000ff" stroke-width="1.6" stroke-dasharray="6 6"/>
<path d="M419.00 104.40l7.2 7.2M419.00 111.60l7.2 -7.2" stroke="#0000ff" stroke-width="2.3" fill="none"/>
<text x="443" y="113.4" font-size="14.3">CI</text>
<path d="M406.0 129.6H439.5" stroke="#000000" stroke-width="1.6" stroke-dasharray="6 6"/>
<path d="M422.60 124.00L427.60 132.40L417.60 132.40z" stroke="#000000" stroke-width="2.0" fill="none" stroke-linejoin="miter"/>
<text x="443" y="135.0" font-size="14.3">HCMCI</text>
</svg></body></html>
